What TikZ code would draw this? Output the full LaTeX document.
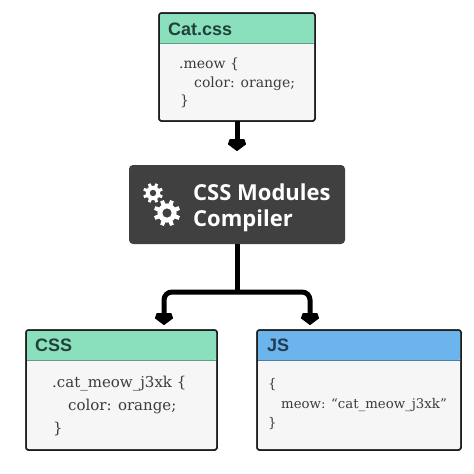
\documentclass[tikz,border=0pt]{standalone}
\usepackage{fontspec}
\setmainfont{Liberation Sans}
\newfontfamily\slabfont{DejaVu Serif}
\newfontfamily\compfont{Open Sans}
\usetikzlibrary{arrows.meta}
\pgfdeclarearrow{
  name=ShieldTip,
  setup code={\pgfarrowssettipend{0pt}\pgfarrowssetbackend{-12pt}\pgfarrowssetlineend{-8pt}\pgfarrowssetvisualbackend{-8pt}},
  drawing code={
    \pgfsetlinewidth{1.5pt}\pgfsetroundjoin\pgfsetdash{}{0pt}
    \pgfpathmoveto{\pgfqpoint{-0.8pt}{0pt}}
    \pgfpathlineto{\pgfqpoint{-7pt}{8.3pt}}
    \pgfpathlineto{\pgfqpoint{-11.2pt}{6.8pt}}
    \pgfpathlineto{\pgfqpoint{-11.2pt}{-6.8pt}}
    \pgfpathlineto{\pgfqpoint{-7pt}{-8.3pt}}
    \pgfpathclose
    \pgfusepathqfillstroke
  },
  defaults={}
}
\definecolor{bodygray}{HTML}{F6F6F6}
\definecolor{greenhead}{HTML}{8AE0BC}
\definecolor{bluehead}{HTML}{6CB4EC}
\definecolor{darkbox}{HTML}{404040}
\definecolor{edgecol}{HTML}{1E1E1E}
\definecolor{codetext}{HTML}{3C3C3C}
\definecolor{greentext}{HTML}{23403A}
\definecolor{bluetext}{HTML}{1F3C52}
\tikzset{
  x=1pt,y=-1pt,
  card/.style={draw=edgecol,line width=1.5pt,rounded corners=2.5pt,fill=bodygray,inner sep=0pt,outer sep=0pt},
  headline/.style={anchor=base west,inner sep=0pt,font=\fontsize{18}{18}\selectfont\bfseries},
  codeline/.style={anchor=base west,inner sep=0pt,text=codetext,font=\fontsize{14}{14}\selectfont\slabfont},
  codelarge/.style={codeline,font=\fontsize{15}{15}\selectfont\slabfont},
  codejs/.style={codeline,font=\fontsize{13.3}{13.3}\selectfont\slabfont},
  compline/.style={anchor=base west,inner sep=0pt,text=white,font=\fontsize{22}{22}\selectfont\compfont\bfseries},
  conn/.style={line width=5pt,draw=black,-{ShieldTip}},
  connplain/.style={line width=5pt,draw=black},
  gearpart/.style={fill=white,draw=none}
}
\newcommand{\gearat}[4]{% x y radius hole
  \fill[gearpart] (#1,#2) circle[radius=#3];
  \foreach \a in {0,45,...,315}{
    \fill[gearpart,shift={(#1,#2)},rotate=\a+22.5] (-0.27*#3,0) -- (-0.2*#3,1.38*#3) -- (0.2*#3,1.38*#3) -- (0.27*#3,0) -- cycle;
  }
  \fill[darkbox] (#1,#2) circle[radius=#4];
}
\begin{document}
\begin{tikzpicture}
\useasboundingbox (0,0) rectangle (474,474);
\fill[white] (0,0) rectangle (474,474);
% Cat.css
\node[card,minimum width=156pt,minimum height=108pt,anchor=north west] (cat) at (159,13) {};
\fill[greenhead,rounded corners=2pt] (159.7,13.7) -- (314.3,13.7) -- (314.3,43) [sharp corners] -- (159.7,43) -- cycle;
\draw[edgecol,line width=1.5pt,rounded corners=2.5pt] (cat.north west) rectangle (cat.south east);
\draw[greenhead!70!black,line width=.5pt] (160,43) -- (314,43);
\node[headline,text=greentext] (catt) at (168,35) {Cat.css};
\node[codeline] (c1) at (179,68) {.meow \{};
\node[codeline] (c2) at (194,87) {color: orange;};
\node[codeline] (c3) at (180,105) {\}};
% Compiler
\node[fill=darkbox,rounded corners=4pt,minimum width=216pt,minimum height=79pt,anchor=north west,inner sep=0pt,outer sep=0pt] (comp) at (129,165) {};
\gearat{153}{193}{7.2}{3.2}
\gearat{167}{213}{9.6}{4.6}
\node[compline] (comp1) at (193,200) {CSS Modules};
\node[compline] (comp2) at (193,226) {Compiler};
% CSS
\node[card,minimum width=191pt,minimum height=120pt,anchor=north west] (css) at (26,330) {};
\fill[greenhead,rounded corners=2pt] (26.7,330.7) -- (216.3,330.7) -- (216.3,360) [sharp corners] -- (26.7,360) -- cycle;
\draw[edgecol,line width=1.5pt,rounded corners=2.5pt] (css.north west) rectangle (css.south east);
\draw[greenhead!70!black,line width=.5pt] (27,360) -- (216,360);
\node[headline,text=greentext] (csst) at (35,351) {CSS};
\node[codelarge] (s1) at (52,387) {.cat\_meow\_j3xk \{};
\node[codelarge] (s2) at (68,410) {color: orange;};
\node[codelarge] (s3) at (53,433) {\}};
% JS
\node[card,minimum width=204pt,minimum height=120pt,anchor=north west] (js) at (257,330) {};
\fill[bluehead,rounded corners=2pt] (257.7,330.7) -- (460.3,330.7) -- (460.3,360) [sharp corners] -- (257.7,360) -- cycle;
\draw[edgecol,line width=1.5pt,rounded corners=2.5pt] (js.north west) rectangle (js.south east);
\draw[bluehead!70!black,line width=.5pt] (258,360) -- (460,360);
\node[headline,text=bluetext] (jst) at (267,351) {JS};
\node[codejs] (j1) at (268,388) {\{};
\node[codejs] (j2) at (281,408) {meow: “cat\_meow\_j3xk”};
\node[codejs] (j3) at (268,427) {\}};
% connectors
\coordinate (tipc) at (237,151);
\coordinate (branch) at (237,292);
\coordinate (tipl) at (164,325);
\coordinate (tipr) at (310,325);
\draw[conn] (cat.south -| tipc) -- (tipc);
\draw[connplain] (comp.south -| branch) -- (branch);
\draw[conn,rounded corners=8pt] (branch) -| (tipl);
\draw[conn,rounded corners=8pt] (branch) -| (tipr);
\end{tikzpicture}
\end{document}
